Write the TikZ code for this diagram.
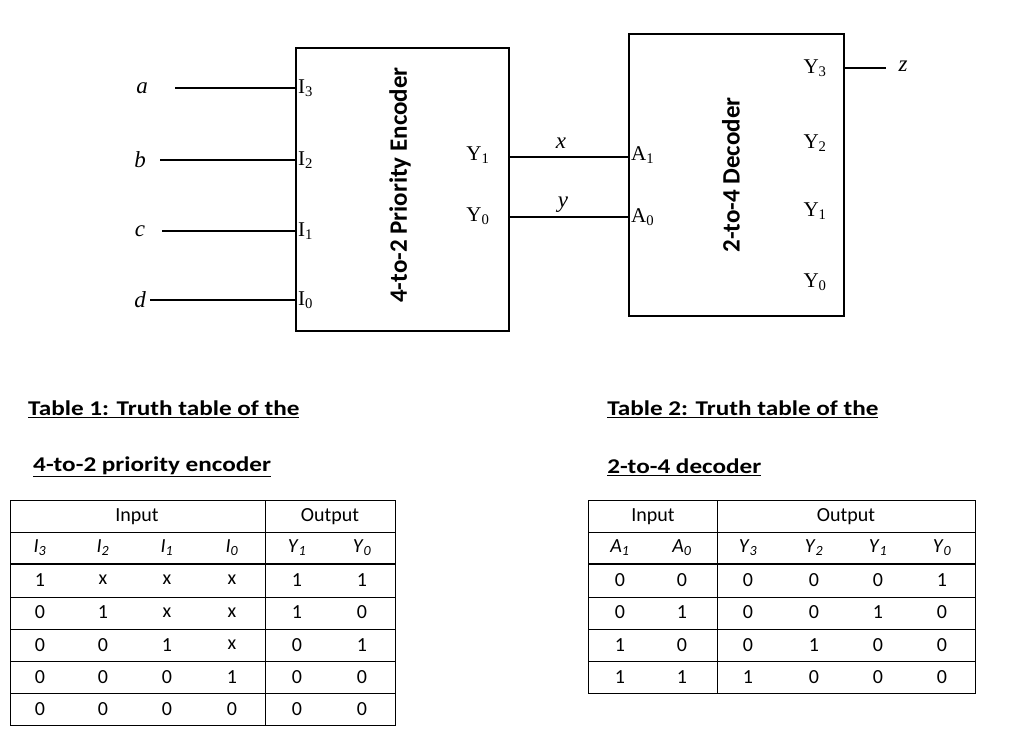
\documentclass[tikz,border=0pt]{standalone}
\usepackage{fontspec}
\setmainfont{Liberation Serif}
\newfontfamily\calfont{Carlito}
\begin{document}
\begin{tikzpicture}[x=1pt,y=-1pt,
  box/.style={draw,line width=1.5pt},
  wire/.style={line width=1.3pt},
  pin/.style={font=\fontsize{21}{21}\selectfont,inner sep=1pt},
  var/.style={font=\itshape\fontsize{23}{23}\selectfont,inner sep=1pt},
  ttl/.style={font=\calfont\bfseries\fontsize{25}{25}\selectfont,rotate=90},
  captxt/.style={font=\calfont\bfseries\fontsize{21}{21}\selectfont,anchor=west,inner sep=0pt,xscale=1.2},
  tc/.style={font=\calfont\fontsize{20}{20}\selectfont,inner sep=0pt},
  tl/.style={line width=1pt}]
\useasboundingbox (0,0) rectangle (1024,739);
% encoder
\node[box,minimum width=213pt,minimum height=283pt,anchor=north west] (enc) at (295,47) {};
\node[ttl] (enct) at (400,185) {4-to-2 Priority Encoder};
\node[box,minimum width=215pt,minimum height=282pt,anchor=north west] (dec) at (628,33) {};
\node[ttl] (dect) at (731,175) {2-to-4 Decoder};
% inputs
\foreach \n/\lab/\y/\xl/\xs in {a/a/88/142/175, b/b/160/140/160, c/c/231/140/162, d/d/300/140/150}{
  \node[var] (v\n) at (\xl,\y) {\lab};
  \coordinate (s\n) at (\xs,\y);
  \coordinate (e\n) at (295,\y);
  \draw[wire] (s\n) -- (e\n);
}
\node[pin,anchor=west] (i3) at (297,88) {I\textsubscript{3}};
\node[pin,anchor=west] (i2) at (297,160) {I\textsubscript{2}};
\node[pin,anchor=west] (i1) at (297,231) {I\textsubscript{1}};
\node[pin,anchor=west] (i0) at (297,300) {I\textsubscript{0}};
\node[pin] (ey1) at (478,155) {Y\textsubscript{1}};
\node[pin] (ey0) at (478,216) {Y\textsubscript{0}};
\coordinate (x1) at (508,157); \coordinate (x2) at (628,157);
\coordinate (y1) at (508,217); \coordinate (y2) at (628,217);
\draw[wire] (x1) -- (x2); \draw[wire] (y1) -- (y2);
\node[var] (lx) at (561,143) {x};
\node[var] (ly) at (563,205) {y};
\node[pin,anchor=west] (a1) at (630,155) {A\textsubscript{1}};
\node[pin,anchor=west] (a0) at (630,217) {A\textsubscript{0}};
\node[pin] (dy3) at (815,68) {Y\textsubscript{3}};
\node[pin] (dy2) at (815,143) {Y\textsubscript{2}};
\node[pin] (dy1) at (815,211) {Y\textsubscript{1}};
\node[pin] (dy0) at (815,282) {Y\textsubscript{0}};
\coordinate (z1) at (843,68); \coordinate (z2) at (886,68);
\draw[wire] (z1) -- (z2);
\node[var] (lz) at (903,66) {z};
% captions
\node[captxt] (c1) at (28,409) {\underline{Table 1: Truth table of the}};
\node[captxt] (c2) at (33,467) {\underline{4-to-2 priority encoder}};
\node[captxt] (c3) at (607,409) {\underline{Table 2: Truth table of the}};
\node[captxt] (c4) at (607,467) {\underline{2-to-4 decoder}};
% table 1
\draw[tl] (10,500) rectangle (395,725);
\draw[tl] (265,500) -- (265,725);
\foreach \y in {532,597,629,661,693} \draw[tl] (10,\y) -- (395,\y);
\draw[line width=2.5pt] (10,564) -- (395,564);
\node[tc] (h1a) at (137,517) {Input};
\node[tc] (h1b) at (330,517) {Output};
\foreach \x/\a/\b in {40/I/3,103/I/2,167/I/1,232/I/0,297/Y/1,362/Y/0}
  \node[tc] at (\x,548) {\textit{\a}\textsubscript{\textit{\b}}};
\foreach \r [count=\i] in {{1,x,x,x,1,1},{0,1,x,x,1,0},{0,0,1,x,0,1},{0,0,0,1,0,0},{0,0,0,0,0,0}}{
  \foreach \v [count=\j] in \r {
    \pgfmathsetmacro\xx{{40,103,167,232,297,362}[\j-1]}
    \node[tc] at (\xx,548+32.2*\i) {\v};
  }
}
% table 2
\draw[tl] (588,500) rectangle (975,693);
\draw[tl] (717,500) -- (717,693);
\foreach \y in {532,597,629,661} \draw[tl] (588,\y) -- (975,\y);
\draw[line width=2.5pt] (588,564) -- (975,564);
\node[tc] (h2a) at (653,517) {Input};
\node[tc] (h2b) at (846,517) {Output};
\foreach \x/\a/\b in {620/A/1,682/A/0,748/Y/3,814/Y/2,878/Y/1,942/Y/0}
  \node[tc] at (\x,548) {\textit{\a}\textsubscript{\textit{\b}}};
\foreach \r [count=\i] in {{0,0,0,0,0,1},{0,1,0,0,1,0},{1,0,0,1,0,0},{1,1,1,0,0,0}}{
  \foreach \v [count=\j] in \r {
    \pgfmathsetmacro\xx{{620,682,748,814,878,942}[\j-1]}
    \node[tc] at (\xx,548+32.2*\i) {\v};
  }
}
\end{tikzpicture}
\end{document}
